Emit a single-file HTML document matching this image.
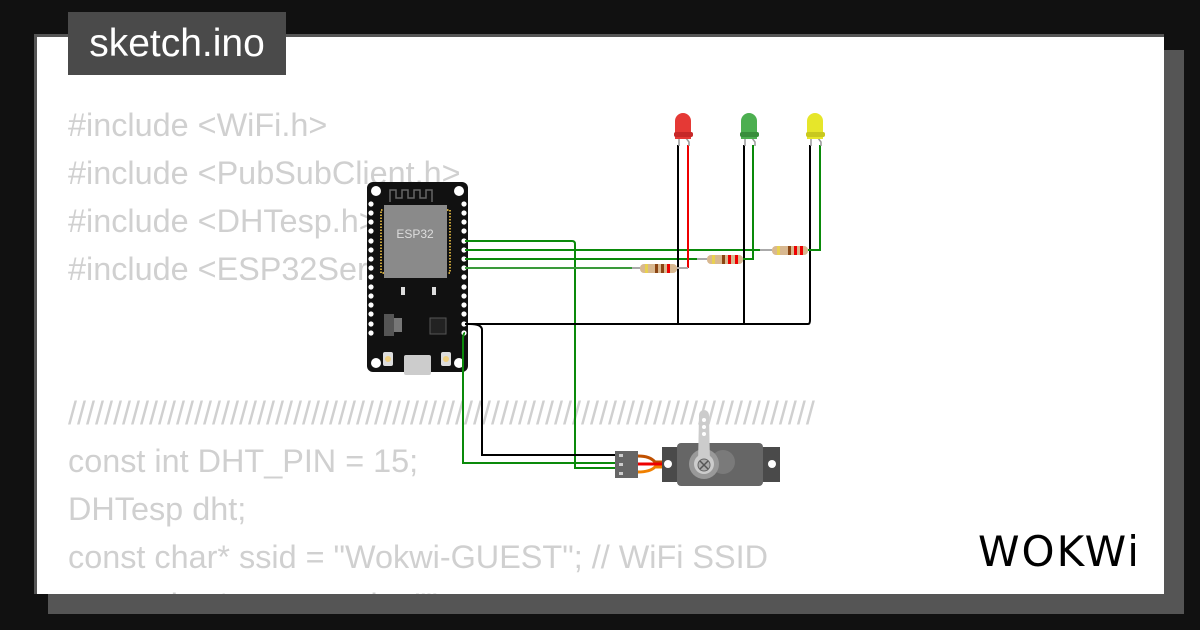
<!DOCTYPE html>
<html><head><style>
html,body{margin:0;padding:0;background:#111;}
body{width:1200px;height:630px;position:relative;overflow:hidden;font-family:"Liberation Sans",sans-serif;}
.shadow{position:absolute;left:48px;top:50px;width:1136px;height:564px;background:#555;}
.panel{position:absolute;left:34px;top:34px;width:1127px;height:557px;background:#fff;border:3px solid #555;border-right:none;border-bottom:none;overflow:hidden;}
.code{position:absolute;left:31px;top:64px;font-size:32.4px;line-height:48px;color:#d0d0d0;white-space:pre;}
.tab{position:absolute;left:68px;top:12px;width:218px;height:63px;background:#4a4a4a;color:#fff;font-size:39px;line-height:63px;text-align:center;}
svg{position:absolute;left:0;top:0;}
</style></head><body>
<div class="shadow"></div>
<div class="panel"><div class="code">#include &lt;WiFi.h&gt;
#include &lt;PubSubClient.h&gt;
#include &lt;DHTesp.h&gt;
#include &lt;ESP32Servo.h&gt;


///////////////////////////////////////////////////////////////////////////////////
const int DHT_PIN = 15;
DHTesp dht;
const char* ssid = "Wokwi-GUEST"; // WiFi SSID
const char* password = ""; </div></div>
<div class="tab">sketch.ino</div>
<svg width="1200" height="630" viewBox="0 0 1200 630">
 <rect x="367" y="182" width="101" height="190" rx="6" fill="#111"/>
 <g fill="#fff">
  <circle cx="376" cy="191" r="5"/><circle cx="459" cy="191" r="5"/>
  <circle cx="376" cy="363" r="5"/><circle cx="459" cy="363" r="5"/>
 </g>
 <g fill="#fff">
  <g id="pl">
   <circle cx="371" cy="204" r="2.6"/><circle cx="371" cy="213" r="2.6"/><circle cx="371" cy="222" r="2.6"/><circle cx="371" cy="231" r="2.6"/><circle cx="371" cy="241" r="2.6"/><circle cx="371" cy="250" r="2.6"/><circle cx="371" cy="259" r="2.6"/><circle cx="371" cy="268" r="2.6"/><circle cx="371" cy="277" r="2.6"/><circle cx="371" cy="287" r="2.6"/><circle cx="371" cy="296" r="2.6"/><circle cx="371" cy="305" r="2.6"/><circle cx="371" cy="314" r="2.6"/><circle cx="371" cy="324" r="2.6"/><circle cx="371" cy="333" r="2.6"/>
  </g>
  <use href="#pl" x="93"/>
 </g>
 <rect x="381" y="210" width="69" height="63" fill="none" stroke="#c9a43a" stroke-width="2" stroke-dasharray="1.5 1.5"/>
 <rect x="384" y="205" width="63" height="73" fill="#8a8a8a"/>
 <text x="415" y="238" font-size="12" fill="#ddd" text-anchor="middle" font-family="Liberation Sans">ESP32</text>
 <path d="M390 202 v-12 h6 v8 h6 v-8 h6 v8 h6 v-8 h6 v8 h6 v-8 h6 v12" fill="none" stroke="#666" stroke-width="1.5"/>
 <rect x="384" y="314" width="10" height="22" fill="#555"/><rect x="394" y="318" width="8" height="14" fill="#777"/>
 <rect x="430" y="318" width="16" height="16" fill="#222" stroke="#555"/>
 <rect x="401" y="287" width="4" height="8" fill="#ddd"/><rect x="432" y="287" width="4" height="8" fill="#ddd"/>
 <rect x="383" y="352" width="10" height="14" rx="2" fill="#ddd"/><circle cx="388" cy="359" r="3" fill="#f0d080"/>
 <rect x="441" y="352" width="10" height="14" rx="2" fill="#ddd"/><circle cx="446" cy="359" r="3" fill="#f0d080"/>
 <rect x="404" y="355" width="27" height="20" rx="2" fill="#ccc"/>
 <g fill="none" stroke-width="2">
  <path d="M465 241 H572 Q575 241 575 244 V468 H615" stroke="#0a8a0a"/>
  <path d="M465 250 H765" stroke="#0a8a0a"/>
  <path d="M465 259 H700" stroke="#0a8a0a"/>
  <path d="M465 268 H635" stroke="#3a9a3a"/>
  <path d="M465 324 H808 Q810 324 810 320 V145" stroke="#000"/>
  <path d="M678 324 V145" stroke="#000"/><path d="M744 324 V145" stroke="#000"/>
  <path d="M470 324 Q482 324 482 330 V455 H615" stroke="#000"/>
  <path d="M465 333 Q463 333 463 340 V463 H615" stroke="#0a8a0a"/>
  <path d="M688 268 H688 V145" stroke="#e00"/>
  <path d="M743 259 H753 V145" stroke="#0a8a0a"/>
  <path d="M808 250 H820 V145" stroke="#0a8a0a"/>
  <path d="M677 268 H688" stroke="#aaa"/><path d="M632 268 H640" stroke="#aaa"/>
  <path d="M697 259 H707" stroke="#aaa"/><path d="M760 250 H772" stroke="#aaa"/>
 </g>
 <g>
  <rect x="640" y="264" width="37" height="9" rx="4" fill="#d8b890"/>
  <rect x="645" y="264" width="3" height="9" fill="#e8d050"/><rect x="655" y="264" width="3" height="9" fill="#8b4513"/><rect x="661" y="264" width="3" height="9" fill="#8b4513"/><rect x="667" y="264" width="3" height="9" fill="#e00"/>
  <rect x="707" y="255" width="36" height="9" rx="4" fill="#d8b890"/>
  <rect x="712" y="255" width="3" height="9" fill="#e8d050"/><rect x="722" y="255" width="3" height="9" fill="#8b4513"/><rect x="728" y="255" width="3" height="9" fill="#e00"/><rect x="735" y="255" width="3" height="9" fill="#e00"/>
  <rect x="772" y="246" width="36" height="9" rx="4" fill="#d8b890"/>
  <rect x="777" y="246" width="3" height="9" fill="#e8d050"/><rect x="788" y="246" width="3" height="9" fill="#8b4513"/><rect x="794" y="246" width="3" height="9" fill="#e00"/><rect x="800" y="246" width="3" height="9" fill="#e00"/>
 </g>
 <g stroke="#999" stroke-width="1.5" fill="none">
  <path d="M679 138 V146"/><path d="M686 138 l3 4 V146"/>
  <path d="M745 138 V146"/><path d="M752 138 l3 4 V146"/>
  <path d="M811 138 V146"/><path d="M818 138 l3 4 V146"/>
 </g>
 <path d="M675 139 V121 a8 8 0 0 1 16 0 V139 Z" fill="#e53935"/><rect x="674" y="132" width="19" height="5" rx="2" fill="#c62828"/>
 <path d="M741 139 V121 a8 8 0 0 1 16 0 V139 Z" fill="#4caf50"/><rect x="740" y="132" width="19" height="5" rx="2" fill="#388e3c"/>
 <path d="M807 139 V121 a8 8 0 0 1 16 0 V139 Z" fill="#e6e62a"/><rect x="806" y="132" width="19" height="5" rx="2" fill="#c8c81e"/>
 <path d="M638 456 Q650 456 655 462 H668" stroke="#c05000" stroke-width="3" fill="none"/>
 <path d="M638 464 H668" stroke="#e00" stroke-width="3" fill="none"/>
 <path d="M638 472 Q650 472 655 467 H668" stroke="#f08000" stroke-width="3" fill="none"/>
 <rect x="615" y="451" width="23" height="27" fill="#666"/>
 <g fill="#ccc"><rect x="619" y="454" width="4" height="3"/><rect x="619" y="463" width="4" height="3"/><rect x="619" y="472" width="4" height="3"/></g>
 <rect x="662" y="447" width="118" height="35" fill="#4a4a4a"/>
 <rect x="677" y="443" width="86" height="43" rx="4" fill="#666"/>
 <circle cx="668" cy="464" r="4" fill="#fff"/><circle cx="772" cy="464" r="4" fill="#fff"/>
 <circle cx="723" cy="462" r="12" fill="#7a7a7a"/>
 <circle cx="704" cy="464" r="15" fill="#999"/>
 <path d="M698 464 L699 415 a5 5 0 0 1 10 0 L710 464 Z" fill="#ccc"/>
 <circle cx="704" cy="464" r="10" fill="#ccc"/>
 <circle cx="704" cy="465" r="6" fill="#aaa" stroke="#666"/>
 <path d="M700 461 l8 8 M708 461 l-8 8" stroke="#555" stroke-width="1.5"/>
 <g fill="#fff"><circle cx="704" cy="420" r="2"/><circle cx="704" cy="427" r="2"/><circle cx="704" cy="434" r="2"/></g>
 <text x="978" y="566" font-size="42" font-family="DejaVu Sans" fill="#000" letter-spacing="2">WOKWi</text>
</svg>
</body></html>
